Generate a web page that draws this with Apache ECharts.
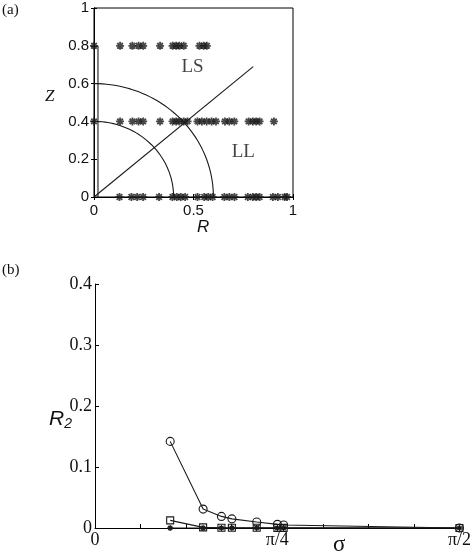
<!DOCTYPE html>
<html>
<head>
<meta charset="utf-8">
<script src="https://cdn.jsdelivr.net/npm/echarts@6/dist/echarts.min.js"></script>
<style>
  html, body { margin: 0; padding: 0; background: #fff; }
  #chart { width: 474px; height: 556px; }
</style>
</head>
<body>
<div id="chart"></div>
<script>
// panel (a): R positions of the stars on each Z row
var rowZ08 = [0, 0.131, 0.193, 0.224, 0.247, 0.332, 0.395, 0.413, 0.429, 0.451, 0.530, 0.551, 0.567];
var rowZ04 = [0, 0.131, 0.193, 0.224, 0.247, 0.332, 0.395, 0.413, 0.429, 0.451, 0.47,
              0.520, 0.542, 0.566, 0.591, 0.613, 0.658, 0.680, 0.705, 0.777, 0.798, 0.815, 0.832, 0.904];
var rowZ00 = [0.128, 0.188, 0.217, 0.247, 0.327, 0.394, 0.416, 0.436, 0.458, 0.52, 0.554, 0.574,
              0.596, 0.655, 0.68, 0.706, 0.773, 0.798, 0.815, 0.832, 0.899, 0.924, 0.958, 0.97];
var arcRadii = [0.4, 0.6];
var diagLine = [[0, 0], [0.8, 0.69]];
var wallLine = [[0.02, 0], [0.02, 0.8]];
var regionLabels = [{ name: 'LS', value: [0.495, 0.69] }, { name: 'LL', value: [0.75, 0.24] }];

// panel (b)
var sigma = [0.324, 0.466, 0.545, 0.590, 0.697, 0.786, 0.813, 1.5708];
var r2Circle = [0.142, 0.031, 0.019, 0.015, 0.0098, 0.006, 0.005, 0];
var r2Square = [0.0125, 0.001, 0.0005, 0.0005, 0.0003, 0.0002, 0.0002, 0];
var r2Star = [0, 0, 0, 0, 0, 0, 0, 0];
var sigmaTickLabels = ['0', '', '', '', 'π/4', '', '', '', 'π/2'];

var INK = '#1a1a1a';
var STAR = 'path://M5,0L5,10M0,5L10,5M1.5,1.5L8.5,8.5M1.5,8.5L8.5,1.5';

function row(list, z) {
    return list.map(function (r) { return [r, z]; });
}

function arc(r) {
    var pts = [];
    for (var a = 0; a <= 90; a += 2) {
        var t = a * Math.PI / 180;
        pts.push([r * Math.cos(t), r * Math.sin(t)]);
    }
    return pts;
}

function pair(xs, ys) {
    return xs.map(function (x, i) { return [x, ys[i]]; });
}

var axisLine = { lineStyle: { color: '#000', width: 1 } };
var sansLabel = { color: '#111', fontFamily: 'Liberation Sans', fontSize: 15 };
var serifLabel = { color: '#111', fontFamily: 'Liberation Serif', fontSize: 18 };

var starData = row(rowZ08, 0.8).concat(row(rowZ04, 0.4), row(rowZ00, 0));

var lineSeries = [wallLine, diagLine].concat(arcRadii.map(arc)).map(function (d) {
    return {
        type: 'line', xAxisIndex: 0, yAxisIndex: 0, data: d,
        showSymbol: false, symbol: 'none', silent: true,
        lineStyle: { color: INK, width: 1.1 }
    };
});

var chart = echarts.init(document.getElementById('chart'));
chart.setOption({
    animation: false,
    backgroundColor: '#fff',
    grid: [
        { left: 94, top: 8, width: 199, height: 189, show: true, borderColor: '#000', borderWidth: 1 },
        { left: 95, top: 284, width: 368, height: 244 }
    ],
    xAxis: [
        {
            gridIndex: 0, type: 'value', min: 0, max: 1, interval: 0.5,
            axisLine: axisLine, splitLine: { show: false },
            axisTick: { inside: true, length: 3, lineStyle: { color: '#000' } },
            axisLabel: Object.assign({ margin: 6 }, sansLabel)
        },
        {
            gridIndex: 0, type: 'value', position: 'top', min: 0, max: 1, interval: 0.5,
            axisLine: axisLine, splitLine: { show: false },
            axisTick: { inside: true, length: 3, lineStyle: { color: '#000' } },
            axisLabel: { show: false }
        },
        {
            gridIndex: 1, type: 'value', min: 0, max: Math.PI / 2, interval: Math.PI / 16,
            axisLine: axisLine, splitLine: { show: false },
            axisTick: { inside: true, length: 4, lineStyle: { color: '#000' } },
            axisLabel: Object.assign({
                margin: 3, showMaxLabel: true, showMinLabel: true,
                formatter: function (v, i) { return sigmaTickLabels[i] || ''; }
            }, serifLabel)
        }
    ],
    yAxis: [
        {
            gridIndex: 0, type: 'value', min: 0, max: 1, interval: 0.2,
            axisLine: axisLine, splitLine: { show: false },
            axisTick: { inside: true, length: 3, lineStyle: { color: '#000' } },
            axisLabel: Object.assign({ margin: 5 }, sansLabel)
        },
        {
            gridIndex: 0, type: 'value', position: 'right', min: 0, max: 1, interval: 0.2,
            axisLine: axisLine, splitLine: { show: false },
            axisTick: { inside: true, length: 3, lineStyle: { color: '#000' } },
            axisLabel: { show: false }
        },
        {
            gridIndex: 1, type: 'value', min: 0, max: 0.4, interval: 0.1,
            axisLine: axisLine, splitLine: { show: false },
            axisTick: { inside: true, length: 4, lineStyle: { color: '#000' } },
            axisLabel: Object.assign({ margin: 3 }, serifLabel)
        }
    ],
    series: lineSeries.concat([
        {
            type: 'scatter', xAxisIndex: 0, yAxisIndex: 0, data: starData,
            symbol: STAR, symbolSize: 8, silent: true,
            itemStyle: { color: 'transparent', borderColor: '#1a1a1a', borderWidth: 1.8 }
        },
        {
            type: 'scatter', xAxisIndex: 0, yAxisIndex: 0, data: regionLabels,
            symbolSize: 1, silent: true, itemStyle: { color: 'transparent' },
            label: {
                show: true, position: 'inside', formatter: '{b}',
                color: '#111', fontFamily: 'Liberation Serif', fontSize: 19
            }
        },
        {
            type: 'line', xAxisIndex: 2, yAxisIndex: 2, data: pair(sigma, r2Star),
            symbol: STAR, symbolSize: 6, showAllSymbol: true,
            lineStyle: { color: INK, width: 1.1 },
            itemStyle: { color: 'transparent', borderColor: INK, borderWidth: 1.3 }
        },
        {
            type: 'line', xAxisIndex: 2, yAxisIndex: 2, data: pair(sigma, r2Square),
            symbol: 'rect', symbolSize: 7, showAllSymbol: true,
            lineStyle: { color: INK, width: 1.1 },
            itemStyle: { color: 'transparent', borderColor: INK, borderWidth: 1.1 }
        },
        {
            type: 'line', xAxisIndex: 2, yAxisIndex: 2, data: pair(sigma, r2Circle),
            symbol: 'circle', symbolSize: 8, showAllSymbol: true,
            lineStyle: { color: INK, width: 1.1 },
            itemStyle: { color: 'transparent', borderColor: INK, borderWidth: 1.1 }
        }
    ]),
    graphic: [
        { type: 'text', left: 2, top: 3, style: { text: '(a)', fill: '#111', font: '15px "Liberation Serif"' } },
        { type: 'text', left: 2, top: 263, style: { text: '(b)', fill: '#111', font: '15px "Liberation Serif"' } },
        { type: 'text', left: 45, top: 88, style: { text: 'Z', fill: '#111', font: 'italic 17px "Liberation Serif"' } },
        { type: 'text', left: 197, top: 219, style: { text: 'R', fill: '#111', font: 'italic 17px "Liberation Sans"' } },
        { type: 'text', left: 333, top: 533, style: { text: 'σ', fill: '#111', font: '23px "Liberation Serif"' } },
        {
            type: 'text', left: 49, top: 409,
            style: {
                text: '{m|R}{s|2}', fill: '#111',
                rich: {
                    m: { font: 'italic 21px "Liberation Sans"', fill: '#111' },
                    s: { font: 'italic 14px "Liberation Sans"', fill: '#111', verticalAlign: 'bottom', padding: [10, 0, 0, 0] }
                }
            }
        }
    ]
});
</script>
</body>
</html>
